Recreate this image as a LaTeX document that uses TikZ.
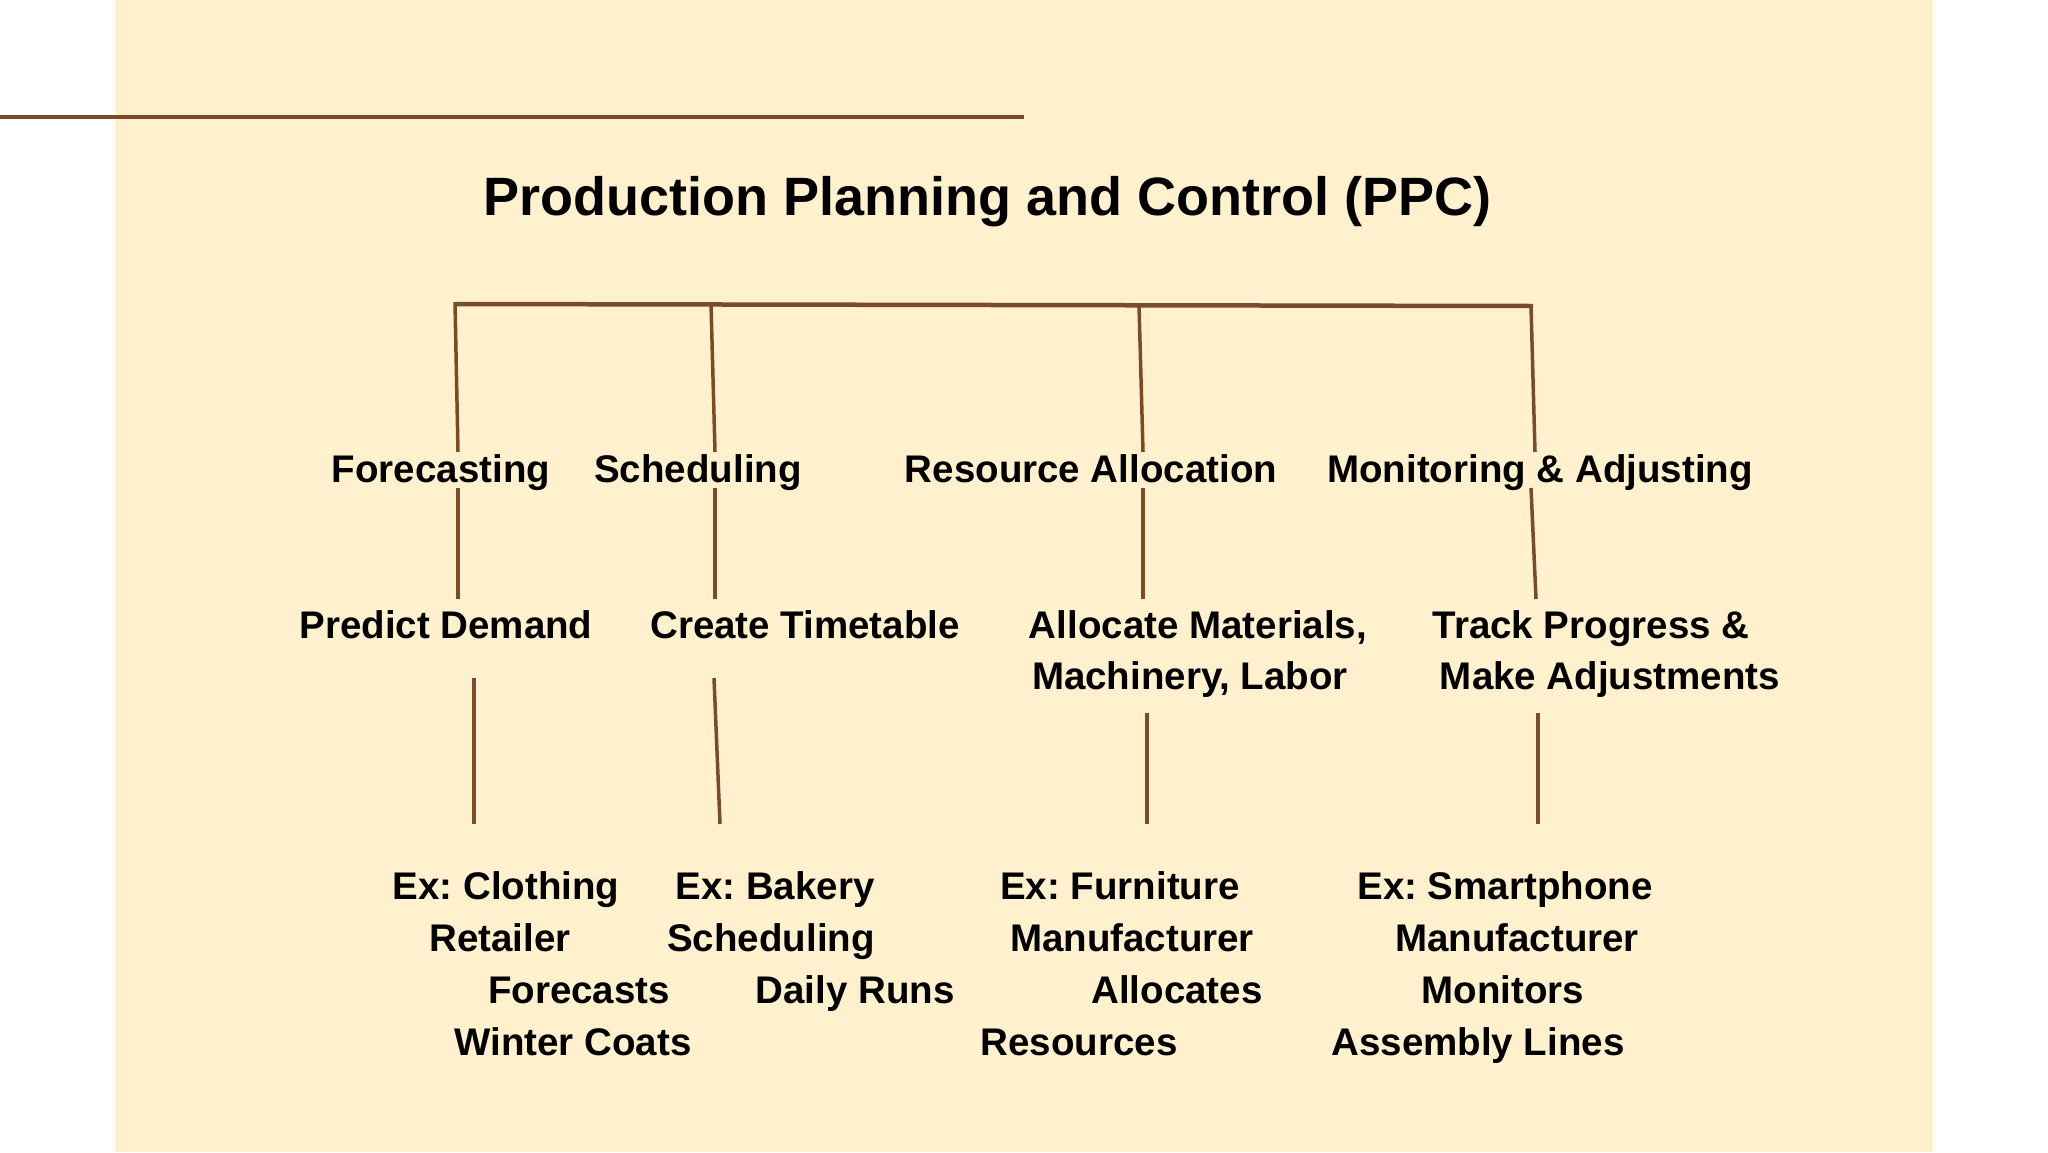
\documentclass[tikz,border=0pt]{standalone}
\usepackage{fontspec}
\setmainfont{Liberation Sans}
\definecolor{cream}{HTML}{FFF1CD}
\definecolor{brownline}{HTML}{7A4A2C}
\frenchspacing
\begin{document}
\begin{tikzpicture}[x=1pt,y=-1pt,
  lbl/.style={anchor=base,inner sep=0pt,font=\fontsize{38.5}{52}\selectfont\bfseries\frenchspacing,text=black},
  ttl/.style={anchor=base,inner sep=0pt,font=\fontsize{54}{60}\selectfont\bfseries,text=black},
  conn/.style={draw=brownline,line width=3.5pt,line cap=butt},
  bus/.style={draw=brownline,line width=4.5pt,line cap=butt}]
\useasboundingbox (0,0) rectangle (2048,1152);
\fill[white] (0,0) rectangle (2048,1152);
\fill[cream] (115,0) rectangle (1933,1152);
% top decorative rule
\coordinate (r0) at (0,117);
\coordinate (r1) at (1024,117);
\draw[bus] (r0) -- (r1);
% title
\node[ttl] (title) at (987,215) {Production Planning and Control (PPC)};
% level 1
\node[lbl] (l1a) at (441,482) {Forecasting};
\node[lbl] (l1b) at (698,482) {Scheduling};
\node[lbl] (l1c) at (1091,482) {Resource Allocation};
\node[lbl] (l1d) at (1540,482) {Monitoring \& Adjusting};
% level 2
\node[lbl] (l2a) at (446,638) {Predict Demand};
\node[lbl] (l2b) at (805,638) {Create Timetable};
\node[lbl] (l2c1) at (1198,638) {Allocate Materials,};
\node[lbl] (l2c2) at (1190,689) {Machinery, Labor};
\node[lbl] (l2d1) at (1591,638) {Track Progress \&};
\node[lbl] (l2d2) at (1610,689) {Make Adjustments};
% level 3
\node[lbl] (e1a) at (506,899) {Ex: Clothing};
\node[lbl] (e1b) at (500,951) {Retailer};
\node[lbl] (e1c) at (579,1003) {Forecasts};
\node[lbl] (e1d) at (573,1055) {Winter Coats};
\node[lbl] (e2a) at (775,899) {Ex: Bakery};
\node[lbl] (e2b) at (771,951) {Scheduling};
\node[lbl] (e2c) at (855,1003) {Daily Runs};
\node[lbl] (e3a) at (1120,899) {Ex: Furniture};
\node[lbl] (e3b) at (1132,951) {Manufacturer};
\node[lbl] (e3c) at (1177,1003) {Allocates};
\node[lbl] (e3d) at (1079,1055) {Resources};
\node[lbl] (e4a) at (1505,899) {Ex: Smartphone};
\node[lbl] (e4b) at (1517,951) {Manufacturer};
\node[lbl] (e4c) at (1503,1003) {Monitors};
\node[lbl] (e4d) at (1478,1055) {Assembly Lines};
% connector end points
\coordinate (bL) at (457,304);
\coordinate (bR) at (1533,306);
\coordinate (a0) at (455,302);  \coordinate (a1) at (458,452);
\coordinate (a2) at (458,488);  \coordinate (a3) at (458,599);
\coordinate (a4) at (474,678);  \coordinate (a5) at (474,824);
\coordinate (b0) at (711,304);  \coordinate (b1) at (715,452);
\coordinate (b2) at (715,488);  \coordinate (b3) at (715,599);
\coordinate (b4) at (714,678);  \coordinate (b5) at (720,824);
\coordinate (c0) at (1139,305); \coordinate (c1) at (1143,452);
\coordinate (c2) at (1143,488); \coordinate (c3) at (1143,599);
\coordinate (c4) at (1147,713); \coordinate (c5) at (1147,824);
\coordinate (d0) at (1531,306); \coordinate (d1) at (1535,452);
\coordinate (d2) at (1531,488); \coordinate (d3) at (1536,599);
\coordinate (d4) at (1538,713); \coordinate (d5) at (1538,824);
% connectors
\draw[bus] (bL) -- (bR);
\draw[conn] (a0) -- (a1); \draw[conn] (a2) -- (a3); \draw[conn] (a4) -- (a5);
\draw[conn] (b0) -- (b1); \draw[conn] (b2) -- (b3); \draw[conn] (b4) -- (b5);
\draw[conn] (c0) -- (c1); \draw[conn] (c2) -- (c3); \draw[conn] (c4) -- (c5);
\draw[conn] (d0) -- (d1); \draw[conn] (d2) -- (d3); \draw[conn] (d4) -- (d5);
\end{tikzpicture}
\end{document}
